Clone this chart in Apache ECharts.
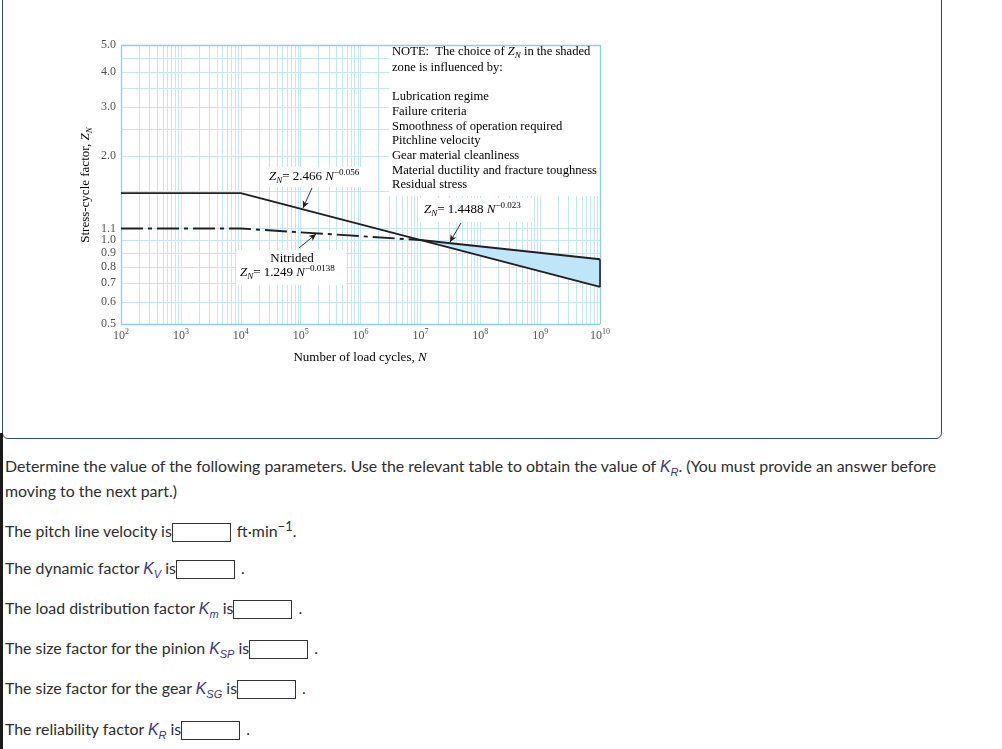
<!DOCTYPE html>
<html><head><meta charset="utf-8">
<script src="https://cdn.jsdelivr.net/npm/echarts@6/dist/echarts.min.js"></script>
<style>
html,body{margin:0;padding:0;background:#fff;width:1002px;height:749px;overflow:hidden;}
#chart{position:absolute;left:0;top:0;width:1002px;height:440px;}
#box{position:absolute;left:2px;top:-10px;width:940px;height:449px;border:1.5px solid #2f4a7c;border-radius:6px;box-sizing:border-box;}
#leftbar{position:absolute;left:0;top:433px;width:2.5px;height:316px;background:#1a1a1a;}
.q{position:absolute;left:5px;font-family:Lato,"Open Sans",sans-serif;font-size:15.9px;line-height:20px;color:#2d2d2d;white-space:nowrap;}
.ib{display:inline-block;width:57px;height:17px;border:1px solid #333;vertical-align:middle;margin:0 2px 0 0;}
.k{font-style:italic;color:#3a3580;font-family:"Liberation Sans",sans-serif;}
.k sub{font-size:11px;vertical-align:-4px;line-height:0;}
.sup{font-size:13px;vertical-align:6px;line-height:0;}
</style>
</head><body>
<div id="chart"></div>
<div id="box"></div>
<div id="leftbar"></div>
<div class="q" style="top:456px">Determine the value of the following parameters. Use the relevant table to obtain the value of <span class="k">K<sub>R</sub></span>. (You must provide an answer before</div>
<div class="q" style="top:481px">moving to the next part.)</div>
<div class="q" style="top:521px">The pitch line velocity is<span class="ib"></span> ft·min<span class="sup">−1</span>.</div>
<div class="q" style="top:558px">The dynamic factor <span class="k">K<sub>V</sub></span> is<span class="ib"></span> .</div>
<div class="q" style="top:598px">The load distribution factor <span class="k">K<sub>m</sub></span> is<span class="ib"></span> .</div>
<div class="q" style="top:638px">The size factor for the pinion <span class="k">K<sub>SP</sub></span> is<span class="ib"></span> .</div>
<div class="q" style="top:678px">The size factor for the gear <span class="k">K<sub>SG</sub></span> is<span class="ib"></span> .</div>
<div class="q" style="top:719px">The reliability factor <span class="k">K<sub>R</sub></span> is<span class="ib"></span> .</div>
<script>
// ---- data ----
const xTickExponents = [2, 3, 4, 5, 6, 7, 8, 9, 10];
const yTickValues = [0.5, 0.6, 0.7, 0.8, 0.9, 1.0, 1.1, 2.0, 3.0, 4.0, 5.0];
const yGridValues = [0.5, 0.6, 0.7, 0.8, 0.9, 1.0, 1.1, 1.5, 2.0, 2.5, 3.0, 3.5, 4.0, 4.5, 5.0];
const gridMultipliers = [1, 2, 3, 4, 5, 6, 7, 8, 9];
const steelN = [1e2, 1e4, 1e10];
const steelZ = [1.472, 1.472, 0.679];
const nitridedN = [1e2, 1e4, 1e7];
const nitridedZ = [1.100, 1.100, 1.000];
const upperN = [1e7, 1e10];
const upperZ = [1.000, 0.853];
const bandN = [1e7, 1e10];
const bandUpperZ = [1.000, 0.853];
const bandLowerZ = [1.000, 0.679];
const noteLines = [
  '{n|NOTE:  The choice of }{ni|Z}{sub|N}{n| in the shaded}',
  '{n|zone is influenced by:}',
  '{n|Lubrication regime}',
  '{n|Failure criteria}',
  '{n|Smoothness of operation required}',
  '{n|Pitchline velocity}',
  '{n|Gear material cleanliness}',
  '{n|Material ductility and fracture toughness}',
  '{n|Residual stress}'
];
const noteLineY = [52, 68, 97, 112, 127, 141, 156, 171, 185];

const serif = '"Liberation Serif","Times New Roman",serif';
const ink = '#231f20';
const tickInk = '#262626';
const gridColor = '#c4e7f8';
const frameColor = '#86cff0';
const rich = {
  t: {fontFamily: serif, fontSize: 13, lineHeight: 17, color: ink},
  i: {fontFamily: serif, fontSize: 13, fontStyle: 'italic', lineHeight: 17, color: ink},
  n: {fontFamily: serif, fontSize: 12.6, lineHeight: 16, color: ink},
  ni: {fontFamily: serif, fontSize: 12.6, fontStyle: 'italic', lineHeight: 16, color: ink},
  sub: {fontFamily: serif, fontSize: 9, fontStyle: 'italic', lineHeight: 8, verticalAlign: 'bottom', color: ink},
  sup: {fontFamily: serif, fontSize: 9, lineHeight: 8, verticalAlign: 'top', color: ink}
};

const xGridValues = [];
for (let e = 2; e < 10; e++) gridMultipliers.forEach(m => xGridValues.push(m * Math.pow(10, e)));
xGridValues.push(1e10);

const zip = (a, b) => a.map((v, i) => [v, b[i]]);

const chart = echarts.init(document.getElementById('chart'));

const graphics = [];
// white backgrounds
graphics.push({type: 'rect', z: 2, shape: {x: 389, y: 44, width: 211, height: 152}, style: {fill: '#fff'}});
graphics.push({type: 'rect', z: 2, shape: {x: 264, y: 167, width: 110, height: 20}, style: {fill: '#fff'}});
graphics.push({type: 'rect', z: 2, shape: {x: 236, y: 250, width: 110, height: 35}, style: {fill: '#fff'}});
graphics.push({type: 'rect', z: 2, shape: {x: 419, y: 198, width: 114, height: 24}, style: {fill: '#fff'}});
// note lines
noteLines.forEach((ln, i) => {
  graphics.push({type: 'text', z: 6, x: 392, y: noteLineY[i], style: {text: ln, rich: rich, align: 'left', verticalAlign: 'middle'}});
});
// annotations
graphics.push({type: 'text', z: 6, x: 269, y: 177, style: {text: '{i|Z}{sub|N}{t|= 2.466 }{i|N}{sup|−0.056}', rich: rich, align: 'left', verticalAlign: 'middle'}});
graphics.push({type: 'text', z: 6, x: 292, y: 259, style: {text: '{t|Nitrided}', rich: rich, align: 'center', verticalAlign: 'middle'}});
graphics.push({type: 'text', z: 6, x: 240, y: 273, style: {text: '{i|Z}{sub|N}{t|= 1.249 }{i|N}{sup|−0.0138}', rich: rich, align: 'left', verticalAlign: 'middle'}});
graphics.push({type: 'text', z: 6, x: 424, y: 210, style: {text: '{i|Z}{sub|N}{t|= 1.4488 }{i|N}{sup|−0.023}', rich: rich, align: 'left', verticalAlign: 'middle'}});
// axis names
graphics.push({type: 'text', z: 6, x: 86, y: 185, rotation: Math.PI / 2, style: {text: '{t|Stress-cycle factor, }{i|Z}{sub|N}', rich: rich, align: 'center', verticalAlign: 'middle'}});
graphics.push({type: 'text', z: 6, x: 360, y: 358, style: {text: '{t|Number of load cycles, }{i|N}', rich: rich, align: 'center', verticalAlign: 'middle'}});

const option = {
  animation: false,
  grid: {left: 121, top: 45, width: 479, height: 279, show: false},
  xAxis: {type: 'log', logBase: 10, min: 1e2, max: 1e10, axisLine: {show: false}, axisTick: {show: false}, axisLabel: {show: false}, splitLine: {show: false}},
  yAxis: {type: 'log', logBase: 10, min: 0.5, max: 5, axisLine: {show: false}, axisTick: {show: false}, axisLabel: {show: false}, splitLine: {show: false}},
  graphic: {elements: graphics},
  series: [
    { // grid lines
      type: 'line', z: 1, silent: true, data: [[1e2, 0.5]], showSymbol: false, lineStyle: {opacity: 0},
      markLine: {z: 1, silent: true, symbol: 'none', animation: false, label: {show: false},
        lineStyle: {color: gridColor, width: 1, type: 'solid'},
        data: xGridValues.map(v => ({xAxis: v})).concat(yGridValues.map(v => ({yAxis: v})))}
    },
    { // frame
      type: 'line', z: 3, silent: true, data: [[1e2, 0.5]], showSymbol: false, lineStyle: {opacity: 0},
      markLine: {z: 3, silent: true, symbol: 'none', animation: false, label: {show: false},
        lineStyle: {color: frameColor, width: 1.3, type: 'solid'},
        data: [{xAxis: 1e2}, {xAxis: 1e10}, {yAxis: 0.5}, {yAxis: 5}]}
    },
    { // shaded zone
      type: 'custom', z: 3.5, silent: true, data: [[bandN[0], bandUpperZ[0]]],
      renderItem: function (params, api) {
        const pts = [];
        bandN.forEach((n, i) => pts.push(api.coord([n, bandUpperZ[i]])));
        for (let i = bandN.length - 1; i >= 0; i--) pts.push(api.coord([bandN[i], bandLowerZ[i]]));
        return {type: 'polygon', shape: {points: pts}, style: {fill: '#bfe6f8', stroke: null}};
      }
    },
    {type: 'line', z: 4, silent: true, data: zip(steelN, steelZ), showSymbol: false, lineStyle: {color: ink, width: 1.9}},
    {type: 'line', z: 4, silent: true, data: zip(nitridedN, nitridedZ), showSymbol: false, lineStyle: {color: ink, width: 1.9, type: [22, 5, 4, 5]}},
    {type: 'line', z: 4, silent: true, data: zip(upperN, upperZ), showSymbol: false, lineStyle: {color: ink, width: 1.9}},
    {type: 'line', z: 4, silent: true, data: [[bandN[1], bandUpperZ[1]], [bandN[1], bandLowerZ[1]]], showSymbol: false, lineStyle: {color: ink, width: 1.6}},
    { // y tick labels
      type: 'scatter', z: 6, symbolSize: 0, silent: true, data: yTickValues.map(v => [1e2, v]),
      label: {show: true, position: 'left', distance: 5,
        formatter: p => '{b|' + p.value[1].toFixed(1) + '}',
        rich: {b: {fontFamily: serif, fontSize: 12, lineHeight: 13, color: tickInk}}}
    },
    { // x tick labels
      type: 'scatter', z: 6, symbolSize: 0, silent: true, data: xTickExponents.map(e => [Math.pow(10, e), 0.5]),
      label: {show: true, position: 'bottom', distance: 4,
        formatter: p => '{b|10}{s|' + Math.round(Math.log10(p.value[0])) + '}',
        rich: {b: {fontFamily: serif, fontSize: 12, lineHeight: 16, color: tickInk},
               s: {fontFamily: serif, fontSize: 8, lineHeight: 8, verticalAlign: 'top', color: tickInk}}}
    },
    { // arrows
      type: 'line', z: 6, silent: true, data: [[1e2, 0.5]], showSymbol: false, lineStyle: {opacity: 0},
      markLine: {z: 6, silent: true, symbol: ['none', 'arrow'], symbolSize: [5, 7], animation: false, label: {show: false},
        lineStyle: {color: ink, width: 0.9, type: 'solid'},
        data: [
          [{x: 312, y: 188}, {x: 303, y: 208}],
          [{x: 299, y: 248}, {x: 316, y: 234}],
          [{x: 461, y: 223}, {x: 450, y: 242}]
        ]}
    }
  ]
};
chart.setOption(option);
</script>
</body></html>
